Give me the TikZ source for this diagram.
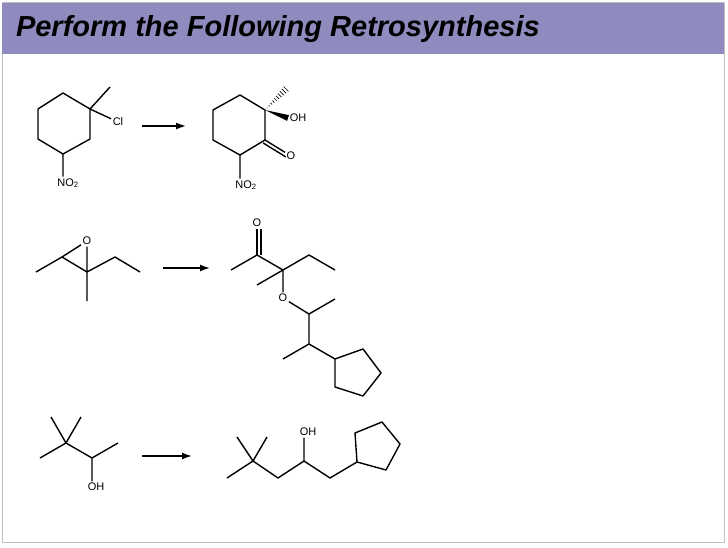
\documentclass[tikz,border=0pt]{standalone}
\usepackage{fontspec}
\setmainfont{Liberation Sans}
\usetikzlibrary{calc,arrows.meta}
\definecolor{hdr}{RGB}{143,139,190}
\begin{document}
\begin{tikzpicture}[x=1pt,y=-1pt,line width=1.4pt,line join=round,
  atom/.style={inner sep=1pt,font=\fontsize{11}{11}\selectfont},
  arr/.style={-{Latex[length=10pt,width=7pt]},line width=1.4pt}]
\useasboundingbox (0,0) rectangle (728,548);
\draw[gray!50,line width=0.8pt] (2,2) rectangle (724,542);
\fill[hdr] (2,3) rectangle (724,54);
\node[anchor=west,font=\bfseries\itshape\fontsize{29}{29}\selectfont] (title) at (12,29) {Perform the Following Retrosynthesis};
% Row 1 left
\coordinate (a1) at (63,93); \coordinate (a2) at (90,109); \coordinate (a3) at (90,139);
\coordinate (a4) at (63,154); \coordinate (a5) at (38,139); \coordinate (a6) at (38,109);
\coordinate (a7) at (110,87);
\node[atom] (cl) at (118,122) {Cl};
\node[atom] (no1) at (68,183) {NO\textsubscript{2}};
\draw (a1)--(a2)--(a3)--(a4)--(a5)--(a6)--cycle (a2)--(a7) (a2)--(cl) (a4)--(no1.north -| a4);
\coordinate (r1s) at (142,126); \coordinate (r1e) at (186,126);
\draw[arr] (r1s)--(r1e);
% Row 1 right
\coordinate (b1) at (240,95); \coordinate (b2) at (265,110); \coordinate (b3) at (265,140);
\coordinate (b4) at (240,155); \coordinate (b5) at (213,140); \coordinate (b6) at (213,110);
\coordinate (b7) at (286,89);
\node[atom] (oh1) at (298,118) {OH};
\node[atom] (o1) at (291,156) {O};
\node[atom] (no2) at (246,185) {NO\textsubscript{2}};
\draw (b1)--(b2)--(b3)--(b4)--(b5)--(b6)--cycle (b4)--(no2.north -| b4);
\draw (b3)--(o1);
\draw[shorten >=4pt] ($(b3)!3.5pt!-90:(o1)$)--($(o1)!3.5pt!90:(b3)$);
\foreach \t in {0.1,0.2,...,1.0}
  \draw[line width=0.7pt] ($(b2)!\t!(b7)!{\t*3.5pt}!90:(b7)$)--($(b2)!\t!(b7)!{\t*3.5pt}!-90:(b7)$);
\fill (b2)--($(oh1.west)!3pt!90:(b2)$)--($(oh1.west)!3pt!-90:(b2)$)--cycle;
% Row 2 left
\coordinate (e1) at (36,272); \coordinate (e2) at (62,257); \coordinate (e3) at (87,272);
\coordinate (e4) at (115,257); \coordinate (e5) at (140,272); \coordinate (e6) at (87,301);
\node[atom] (eo) at (87,241) {O};
\draw (e1)--(e2)--(e3)--(e4)--(e5) (e2)--(eo)--(e3)--(e6);
\coordinate (r2s) at (163,268); \coordinate (r2e) at (210,268);
\draw[arr] (r2s)--(r2e);
% Row 2 right
\coordinate (f1) at (231,270); \coordinate (f2) at (257,255); \coordinate (f3) at (283,270);
\coordinate (f4) at (309,255); \coordinate (f5) at (335,270); \coordinate (f6) at (257,285);
\coordinate (f8) at (309,314); \coordinate (f9) at (335,299); \coordinate (f10) at (309,344);
\coordinate (f11) at (283,359);
\coordinate (p1) at (335,359); \coordinate (p2) at (363,349); \coordinate (p3) at (381,373);
\coordinate (p4) at (363,396); \coordinate (p5) at (335,387);
\node[atom] (fo) at (257,223) {O};
\node[atom] (fo2) at (283,298) {O};
\draw (f1)--(f2)--(f3)--(f4)--(f5) (f3)--(f6) (f3)--(fo2)--(f8)--(f9) (f8)--(f10)--(f11) (f10)--(p1);
\draw (p1)--(p2)--(p3)--(p4)--(p5)--cycle;
\draw (f2)--(fo.south) ([xshift=4pt]f2)--([xshift=4pt]fo.south);
% Row 3 left
\coordinate (g1) at (66,443); \coordinate (g2) at (51,417); \coordinate (g3) at (81,417);
\coordinate (g4) at (40,458); \coordinate (g5) at (92,458); \coordinate (g6) at (118,443);
\node[atom] (goh) at (96,487) {OH};
\draw (g2)--(g1)--(g3) (g4)--(g1)--(g5)--(g6) (g5)--(goh.north -| g5);
\coordinate (r3s) at (142,456); \coordinate (r3e) at (192,456);
\draw[arr] (r3s)--(r3e);
% Row 3 right
\coordinate (h1) at (253,461); \coordinate (h2) at (237,437); \coordinate (h3) at (267,437);
\coordinate (h4) at (227,478); \coordinate (h5) at (278,478); \coordinate (h6) at (304,461);
\coordinate (h7) at (330,478);
\coordinate (q1) at (357,462); \coordinate (q2) at (355,433); \coordinate (q3) at (382,422);
\coordinate (q4) at (400,444); \coordinate (q5) at (386,470);
\node[atom] (hoh) at (308,432) {OH};
\draw (h2)--(h1)--(h3) (h4)--(h1)--(h5)--(h6)--(h7)--(q1) (h6)--(hoh.south -| h6);
\draw (q1)--(q2)--(q3)--(q4)--(q5)--cycle;
\end{tikzpicture}
\end{document}
